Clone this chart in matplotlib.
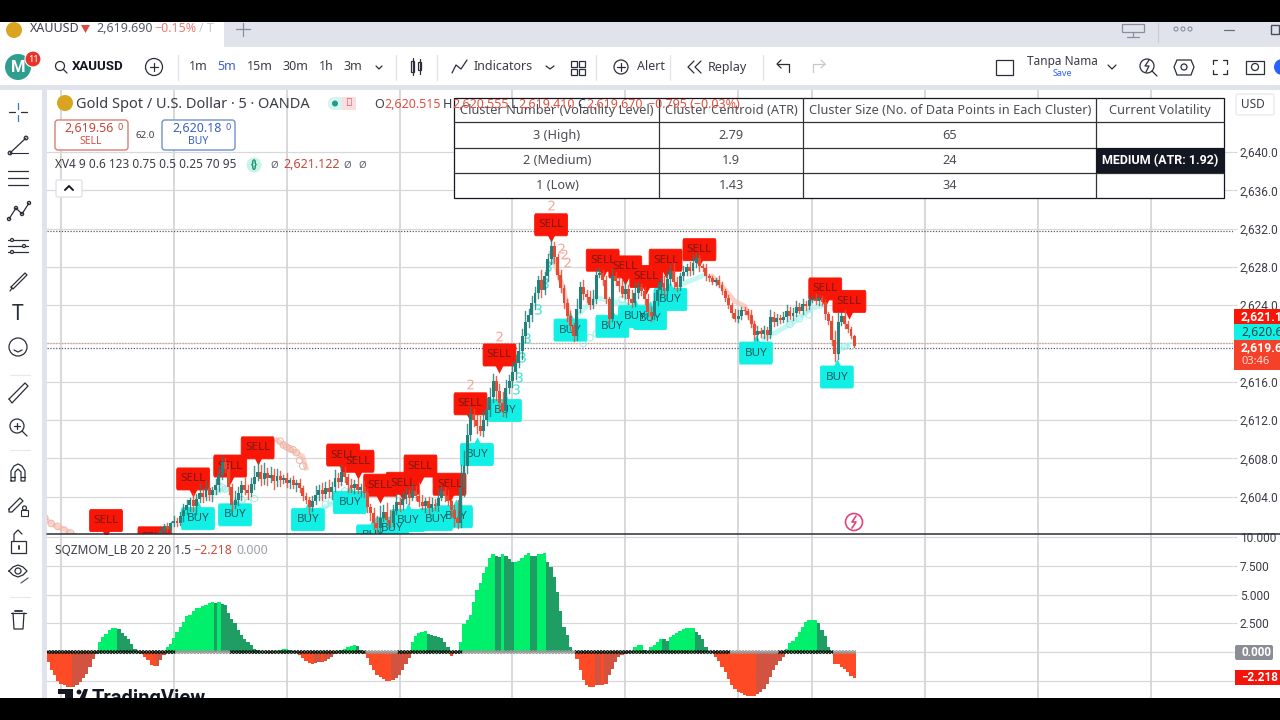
import matplotlib
matplotlib.use('Agg')
import matplotlib.pyplot as plt
from matplotlib.patches import Rectangle, Circle, FancyBboxPatch, Polygon

plt.rcParams['font.family'] = ['Noto Sans', 'DejaVu Sans']

# momentum histogram, one value per 5m bar
momentum = [-0.9, -1.6, -2.0, -2.5, -2.8, -2.9, -3.0, -3.02, -3.0, -2.9, -2.6, -2.3, -1.9, -1.3, -0.6, -0.2,
            0.9, 1.3, 1.6, 1.9, 2.1, 2.1, 2.0, 1.7, 1.4, 1.1, 0.7, 0.3,
            -0.05, -0.2, -0.4, -0.7, -1.1, -1.25, -1.2, -0.7, -0.25,
            0.4, 0.7, 1.2, 1.75, 2.2, 2.6, 3.15, 3.25, 3.6, 3.8, 3.85, 4.0, 4.1, 4.3, 4.35, 4.3, 4.32, 4.2, 4.1,
            3.4, 2.9, 2.5, 1.9, 1.45, 1.15, 0.9, 0.6, 0.3, 0.15,
            0.05, 0.02, -0.05, -0.08, 0.05, 0.1, 0.2, 0.25, 0.3, 0.2, 0.1,
            -0.1, -0.3, -0.55, -0.8, -0.95, -1.0, -0.95, -0.85, -0.85, -0.75, -0.6, -0.4, -0.2,
            0.1, 0.2, 0.3, 0.45, 0.55, 0.65, 0.55, 0.15,
            -0.15, -0.55, -1.1, -1.6, -2.0, -2.2, -2.35, -2.5, -2.55, -2.45, -2.3, -2.0, -1.6, -1.0, -0.5,
            0.85, 1.4, 1.7, 1.75, 1.8, 1.6, 1.5, 1.4, 1.3, 1.2, 0.85, 0.4,
            -0.35, -0.1, 0.02,
            0.85, 2.45, 2.75, 3.2, 4.35, 5.4, 6.0, 6.85, 7.4, 8.15, 8.5, 8.4, 8.3, 8.5, 8.35, 8.1, 7.85, 7.85, 7.9,
            8.15, 8.45, 8.6, 8.4, 8.35, 8.5, 8.55, 8.6, 7.85, 7.4, 6.5, 5.2, 3.6, 2.2, 1.45, 0.45, 0.02,
            -0.6, -1.6, -2.45, -2.9, -3.0, -3.0, -2.9, -2.85, -2.9, -2.75, -2.0, -1.45, -0.9, -0.45, -0.3, -0.2, -0.1,
            0.1, 0.4, 0.6, 0.6, 0.15, 0.02,
            0.45, 0.65, 0.85, 1.15, 1.1, 1.0, 1.3, 1.45, 1.7, 1.8, 2.05, 2.1, 2.1, 2.1, 1.75, 1.45, 1.15, 0.45,
            0.02, -0.1,
            -0.45, -0.75, -1.3, -1.75, -2.35, -2.85, -3.2, -3.5, -3.6, -3.7, -3.8, -3.8, -3.8, -3.65, -3.5, -3.2,
            -2.75, -2.2, -1.6, -1.15, -0.75, -0.45,
            0.3, 0.75, 1.0, 1.3, 1.75, 2.2, 2.6, 2.75, 2.75, 2.75, 2.5, 1.9, 1.4, 0.45, 0.1,
            -1.0, -1.05, -1.3, -1.45, -1.75, -2.05, -2.218]
squeeze_grey = [(40, 56), (99, 108), (129, 163), (212, 226), (244, 250)]

first_candle = 35
closes = [2600.4, 2600.9, 2600.6, 2601.2, 2601.5, 2601.3, 2602.0, 2602.6, 2603.1, 2603.6,
          2603.0, 2603.8, 2604.4, 2604.0, 2604.9, 2604.2, 2604.7, 2605.2, 2606.3, 2607.6,
          2606.9, 2605.0, 2603.1, 2603.6, 2604.4, 2605.2, 2604.7, 2604.4, 2605.3, 2606.1,
          2606.6, 2605.8, 2606.5, 2605.9, 2606.3, 2605.6, 2606.2, 2605.7, 2605.9, 2605.4,
          2605.7, 2605.2, 2605.4, 2604.9, 2604.1, 2603.6, 2602.9, 2603.5, 2604.2, 2604.7,
          2604.3, 2604.9, 2604.5, 2605.0, 2605.9, 2605.5, 2606.6, 2606.1, 2605.2, 2604.9,
          2605.3, 2604.7, 2605.0, 2604.4, 2602.9, 2602.3, 2601.2, 2600.7, 2601.8, 2602.4,
          2601.6, 2601.3, 2602.5, 2603.4, 2603.1, 2603.8, 2604.3, 2603.9, 2604.6, 2604.1,
          2603.4, 2603.0, 2603.5, 2602.8, 2603.2, 2603.0, 2603.9, 2604.6, 2604.1, 2603.5,
          2602.6, 2601.8, 2601.3, 2604.9, 2607.2, 2610.4, 2612.6, 2612.0, 2611.4, 2610.9,
          2612.0, 2613.1, 2614.4, 2616.1, 2615.0, 2613.8, 2613.0, 2615.3, 2616.1, 2617.0,
          2618.0, 2619.2, 2620.8, 2622.2, 2623.0, 2624.2, 2625.3, 2626.6, 2625.6, 2627.1,
          2628.8, 2630.2, 2629.0, 2627.2, 2625.8, 2624.2, 2622.9, 2621.8, 2620.8, 2623.6,
          2625.9, 2625.2, 2624.9, 2624.0, 2624.6,
          2627.2, 2627.4, 2626.6, 2624.6, 2622.6, 2627.0,
          2626.5, 2626.0, 2625.2, 2625.7, 2624.7, 2624.2, 2625.3, 2625.9, 2625.5, 2624.6,
          2623.3, 2622.9, 2624.4, 2625.6, 2626.3, 2625.5, 2626.7, 2627.6, 2626.4, 2625.9,
          2627.0, 2627.5, 2628.0, 2627.6, 2628.4, 2628.9, 2628.1, 2627.9, 2627.0, 2626.8,
          2626.4, 2626.6, 2626.1, 2625.5, 2624.8, 2624.0, 2623.2, 2622.6, 2622.9, 2623.5,
          2623.4, 2623.0, 2622.0, 2620.9, 2621.3, 2621.0, 2621.4, 2620.9, 2622.8, 2622.2,
          2622.7, 2622.5, 2622.8, 2623.4, 2622.9, 2623.2, 2623.8, 2623.4, 2624.1, 2623.9,
          2624.5, 2624.7, 2624.4, 2624.8, 2624.3, 2623.1, 2622.4, 2620.4, 2618.9, 2622.2,
          2622.9, 2622.0, 2621.5, 2620.8, 2619.69]
upper_wick = [0.3, 0.2, 0.4, 0.2, 0.5, 0.3, 0.4, 0.6, 0.5, 0.3,
              0.8, 0.5, 0.9, 0.4, 0.7, 0.5, 0.3, 0.6, 0.8, 0.7,
              0.4, 0.6, 0.3, 1.0, 0.6, 0.4, 0.7, 0.5, 0.6, 1.1,
              0.9, 0.7, 1.0, 0.5, 0.8, 0.6, 0.7, 0.5, 0.4, 0.6,
              0.3, 0.5, 0.3, 0.4, 0.2, 0.3, 0.4, 0.6, 0.9, 0.5,
              0.7, 0.6, 0.8, 0.5, 0.9, 0.6, 0.7, 0.5, 0.3, 0.6,
              0.4, 0.5, 0.3, 0.6, 0.4, 0.3, 0.5, 0.8, 1.2, 0.7,
              0.9, 1.0, 0.6, 0.9, 0.5, 0.7, 0.6, 0.4, 0.7, 0.5,
              0.6, 0.8, 0.4, 0.5, 0.7, 0.6, 0.9, 0.5, 0.4, 0.6,
              0.3, 0.5, 1.8, 2.4, 1.6, 1.2, 0.8, 0.6, 0.5, 1.0,
              0.9, 1.2, 1.0, 0.7, 0.5, 0.8, 1.1, 0.9, 0.6, 1.1,
              0.8, 0.9, 0.7, 1.2, 0.6, 0.8, 0.6, 0.5, 1.1, 0.4,
              0.5, 0.6, 0.4, 0.3, 0.5, 0.3, 0.4, 0.5, 0.3, 1.1,
              0.5, 0.7, 0.4, 0.6, 1.0,
              0.6, 0.5, 0.3, 0.4, 0.3, 0.8,
              0.5, 0.4, 0.6, 0.7, 0.4, 0.9, 1.0, 0.5, 0.3, 0.4,
              0.6, 0.5, 0.9, 0.8, 0.5, 0.7, 0.9, 0.6, 0.8, 0.5,
              0.4, 0.6, 0.3, 0.5, 0.8, 0.6, 0.3, 0.2, 0.4, 0.3,
              0.3, 0.2, 0.4, 0.3, 0.2, 0.3, 0.2, 0.4, 0.6, 0.3,
              0.3, 0.2, 0.5, 0.4, 0.5, 0.3, 0.4, 0.3, 0.7, 0.5,
              0.4, 0.3, 0.5, 0.6, 0.4, 0.5, 0.6, 0.4, 0.5, 0.3,
              0.4, 0.3, 0.5, 0.3, 0.2, 0.3, 0.2, 0.5, 0.9, 1.0,
              0.4, 0.6, 0.4, 0.2, 0.1]
lower_wick = [0.3, 0.4, 0.2, 0.5, 0.3, 0.4, 0.3, 0.5, 0.4, 0.6,
              0.5, 0.8, 0.4, 0.6, 0.3, 0.5, 0.7, 0.4, 0.6, 0.5,
              0.3, 0.7, 0.6, 0.3, 0.5, 0.8, 0.4, 0.6, 0.3, 0.5,
              0.4, 0.6, 0.5, 0.7, 0.4, 0.8, 0.5, 0.6, 0.3, 0.4,
              0.5, 0.3, 0.6, 0.4, 0.5, 0.3, 0.7, 0.4, 0.3, 0.5,
              0.6, 0.4, 0.5, 0.7, 0.4, 0.5, 0.3, 0.6, 0.7, 0.4,
              0.5, 0.3, 0.6, 0.4, 0.5, 0.7, 0.6, 0.4, 0.5, 0.3,
              0.6, 0.5, 0.4, 0.3, 0.6, 0.4, 0.5, 0.7, 0.3, 0.5,
              0.4, 0.3, 0.6, 0.5, 0.3, 0.4, 0.5, 0.3, 0.6, 0.4,
              0.7, 0.9, 0.6, 0.5, 0.8, 0.7, 0.5, 0.6, 0.8, 0.5,
              0.6, 0.5, 0.7, 0.5, 0.9, 0.8, 0.6, 0.7, 0.5, 0.6,
              0.7, 0.5, 0.8, 0.6, 0.5, 0.7, 0.6, 0.5, 0.7, 0.4,
              0.6, 0.5, 0.6, 0.5, 0.4, 0.5, 0.6, 0.4, 0.5, 0.4,
              0.3, 0.5, 0.6, 0.4, 0.3,
              0.4, 0.3, 0.5, 0.4, 0.6, 0.3,
              0.4, 0.5, 0.3, 0.4, 0.6, 0.4, 0.3, 0.5, 0.4, 0.5,
              0.4, 0.6, 0.3, 0.4, 0.5, 0.4, 0.3, 0.5, 0.6, 0.4,
              0.3, 0.4, 0.3, 0.4, 0.3, 0.4, 0.5, 0.3, 0.4, 0.3,
              0.2, 0.3, 0.2, 0.3, 0.4, 0.3, 0.4, 0.3, 0.4, 0.3,
              0.3, 0.4, 0.3, 0.4, 0.5, 0.3, 0.4, 0.5, 0.3, 0.4,
              0.3, 0.4, 0.3, 0.4, 0.3, 0.4, 0.3, 0.2, 0.3, 0.4,
              0.3, 0.2, 0.3, 0.4, 0.3, 0.5, 0.4, 0.6, 0.7, 0.5,
              0.3, 0.4, 0.3, 0.2, 0.1]

sell_bars = [18, 33, 45, 56.5, 65, 91.5, 96, 103, 110, 115.5, 124.5, 131, 140, 156, 172, 179, 185.5, 191.5, 202, 241, 248.5]
sell_prices = [2601.5, 2599.7, 2605.85, 2607.2, 2609.1, 2608.35, 2607.7, 2605.2, 2605.4, 2607.2, 2605.3,
               2613.7, 2618.8, 2632.4, 2628.7, 2628.0, 2627.0, 2628.7, 2629.8, 2625.7, 2624.4]
buy_bars = [46.5, 58, 80.6, 93.6, 100.8, 106.7, 111.6, 120.3, 126.5, 133, 141.7, 162, 175, 182, 186.7, 193, 219.5, 244.6]
buy_prices = [2601.7, 2602.1, 2601.6, 2603.4, 2599.9, 2600.7, 2601.5, 2601.6, 2601.9, 2608.4, 2613.0,
              2621.4, 2621.8, 2622.8, 2622.6, 2624.6, 2619.0, 2616.5]

# trailing bands of the XV4 script
red_trails = [([-1, 2, 5, 8], [2601.7, 2601.0, 2600.6, 2600.0]),
              ([71, 73, 75, 77, 79, 80], [2609.9, 2609.4, 2609.0, 2608.6, 2608.2, 2607.0]),
              ([156, 158, 160, 162], [2629.5, 2627.5, 2625.5, 2622.5]),
              ([206, 210, 213, 216, 219], [2627.0, 2625.6, 2624.4, 2623.9, 2621.8])]
cyan_trails = [([165, 170, 175, 180, 186, 192, 198, 204], [2623.2, 2624.8, 2624.4, 2624.0, 2623.8, 2625.2, 2626.4, 2627.2]),
               ([222, 227, 232, 237, 241], [2620.5, 2621.4, 2622.4, 2623.7, 2624.0]),
               ([52, 55], [2604.4, 2604.8]), ([84, 90, 94], [2602.6, 2603.6, 2604.4]),
               ([245, 248], [2619.3, 2619.8])]
digit3_bars = [147, 148.5, 152, 154, 155, 156, 146, 145]
digit3_prices = [2618.6, 2620.6, 2623.6, 2626.3, 2628.1, 2628.9, 2616.5, 2615.2]
digit2_bars = [159, 160, 161, 156, 140, 131]
digit2_prices = [2630.0, 2629.3, 2628.5, 2634.5, 2620.8, 2615.8]
swirl_bars = [53, 54, 55, 60, 62, 64, 86, 88, 90, 92, 178, 180, 166, 168, 170, 230, 233, 236, 247, 249]
swirl_prices = [2605.1, 2605.0, 2604.8, 2603.7, 2603.4, 2603.8, 2603.2, 2603.6, 2603.8, 2604.6, 2624.6, 2624.4,
                2620.0, 2620.6, 2621.0, 2622.0, 2622.6, 2623.0, 2619.7, 2619.7]
swirl_red_bars = [72, 73, 74, 75, 76, 77, 78, 79, -1, 1, 3, 5, 7]
swirl_red_prices = [2609.8, 2609.4, 2609.2, 2609.0, 2608.9, 2608.6, 2607.8, 2607.2, 2601.8, 2601.2, 2600.9, 2600.5, 2600.2]

price_ticks = [2604, 2608, 2612, 2616, 2620, 2624, 2628, 2632, 2636, 2640]
mom_ticks = [-2.5, 0, 2.5, 5, 7.5, 10]
grid_bars = [4, 39, 74, 109, 144, 179, 214, 237, 272, 307, 342]
level_lines = [(2631.75, '#5a5a5a'), (2620.0, '#c9a090'), (2619.56, '#6a4a6a')]

table_header = ['Cluster Number (Volatility Level)', 'Cluster Centroid (ATR)',
                'Cluster Size (No. of Data Points in Each Cluster)', 'Current Volatility']
table_levels = ['3 (High)', '2 (Medium)', '1 (Low)']
table_centroids = ['2.79', '1.9', '1.43']
table_sizes = ['65', '24', '34']

timeframes = ['1m', '5m', '15m', '30m', '1h', '3m']
GRID = '#d6d6d6'
TEXT = '#3a3d45'
BAR_PX = 3.225
LIME, DGREEN, RED, DRED = '#00f06c', '#1f9e63', '#ff4a26', '#d2533f'
UP_CANDLE, DOWN_CANDLE = '#23807a', '#e64a33'


def px_to_fig(x0, y0, x1, y1):
    return [x0 / 1280, 1 - y1 / 720, (x1 - x0) / 1280, (y1 - y0) / 720]


def style_pane(a):
    a.patch.set_alpha(0)
    a.yaxis.tick_right()
    a.set_xticks(grid_bars)
    a.tick_params(axis='x', length=0, labelbottom=False)
    a.tick_params(axis='y', length=3, color=GRID, labelsize=8.6, labelcolor=TEXT, pad=2)
    for lab in a.get_yticklabels():
        lab.set_family('Roboto')
    a.xaxis.grid(True, color='#d2d2d2', lw=1.2)
    a.yaxis.grid(True, color='#d8d8d8', lw=0.9)
    a.set_axisbelow(True)
    for s in a.spines.values():
        s.set_visible(False)


fig = plt.figure(figsize=(12.8, 7.2), dpi=100, facecolor='white')

# background layer, drawn in screen pixels
bg = fig.add_axes([0, 0, 1, 1], zorder=0)
bg.set_xlim(0, 1280)
bg.set_ylim(720, 0)
bg.axis('off')
bg.add_patch(Rectangle((0, 22), 1280, 25, fc='#e0e3eb', ec='none'))
bg.add_patch(Rectangle((0, 22), 224, 26, fc='white', ec='none'))
bg.add_patch(Rectangle((0, 85), 1280, 5, fc='#e0e3eb', ec='none'))
bg.add_patch(Rectangle((42, 90), 5, 610, fc='#e0e3eb', ec='none'))
bg.add_patch(Rectangle((1233, 90), 47, 610, fc='white', ec='none'))

# price pane
left_bar = -1 / BAR_PX
right_bar = (1233 - 48) / BAR_PX
ax = fig.add_axes(px_to_fig(47, 90, 1233, 534), zorder=1)
ax.set_xlim(left_bar, right_bar)
ax.set_ylim(2600.1, 2646.48)
ax.set_yticks(price_ticks)
ax.set_yticklabels(['{:,.1f}'.format(p) for p in price_ticks])
style_pane(ax)

for level, col in level_lines:
    ax.axhline(level, color=col, lw=0.9, ls=(0, (1, 1.3)), zorder=1)

for bars, prices in red_trails:
    ax.plot(bars, prices, color='#f6b9aa', lw=3.5, alpha=0.65, zorder=1.5)
for bars, prices in cyan_trails:
    ax.plot(bars, prices, color='#a8f5ef', lw=3.5, alpha=0.7, zorder=1.5)
ax.scatter(swirl_bars, swirl_prices, s=22, marker='o', facecolors='none', edgecolors='#9eeee8', linewidths=0.7, zorder=1.6)
ax.scatter(swirl_red_bars, swirl_red_prices, s=22, marker='o', facecolors='none', edgecolors='#eeb4a6', linewidths=0.7, zorder=1.6)

for b, p in zip(sell_bars, sell_prices):
    ax.add_patch(FancyBboxPatch((b - 4.95, p - 1.0), 9.9, 2.0, boxstyle='round,pad=0.15,rounding_size=0.3',
                                mutation_aspect=1, fc='#fa1607', ec='#fa1607', lw=0.6, zorder=2))
    ax.scatter([b], [p - 1.42], marker='v', s=36, color='#fa1607', zorder=2, linewidths=0)
    ax.text(b, p, 'SELL', ha='center', va='center', fontsize=8.4, color='#7a1a12', zorder=2.2, clip_on=True)
for b, p in zip(buy_bars, buy_prices):
    ax.add_patch(FancyBboxPatch((b - 4.95, p - 1.0), 9.9, 2.0, boxstyle='round,pad=0.15,rounding_size=0.3',
                                mutation_aspect=1, fc='#12f0e6', ec='#12f0e6', lw=0.6, zorder=2))
    ax.scatter([b], [p + 1.42], marker='^', s=36, color='#12f0e6', zorder=2, linewidths=0)
    ax.text(b, p, 'BUY', ha='center', va='center', fontsize=8.4, color='#0e5f66', zorder=2.2, clip_on=True)

ax.scatter(digit3_bars, digit3_prices, marker='$3$', s=55, color='#3fe3d6', linewidths=0, zorder=2.4)
ax.scatter(digit2_bars, digit2_prices, marker='$2$', s=50, color='#eeaa98', linewidths=0, zorder=2.4)

# candles, open taken from the previous close
prev = closes[0] - 0.2
for k, c in enumerate(closes):
    bar = first_candle + k
    col = UP_CANDLE if c >= prev else DOWN_CANDLE
    ax.plot([bar, bar], [min(prev, c) - lower_wick[k], max(prev, c) + upper_wick[k]], color=col, lw=1.0, alpha=0.85, zorder=3)
    ax.add_patch(Rectangle((bar - 0.45, min(prev, c)), 0.9, max(abs(c - prev), 0.1), fc=col, ec='none', zorder=3.1))
    prev = c

# momentum pane
ax2 = fig.add_axes(px_to_fig(47, 535, 1233, 698), zorder=1)
ax2.set_xlim(left_bar, right_bar)
ax2.set_ylim(-4.0, 10.19)
ax2.set_yticks(mom_ticks)
ax2.set_yticklabels(['' if v <= 0 else '{:.3f}'.format(v) for v in mom_ticks])
style_pane(ax2)

bar_cols = []
last = 0
for v in momentum:
    if v >= 0:
        bar_cols.append(LIME if v >= last else DGREEN)
    else:
        bar_cols.append(RED if v <= last else DRED)
    last = v
ax2.bar(range(len(momentum)), momentum, width=1.0, color=bar_cols, linewidth=0, zorder=2)
cross_cols = []
for i in range(len(momentum)):
    grey = any(a <= i <= b for a, b in squeeze_grey)
    cross_cols.append('#9a9a9a' if grey else '#0c1a10')
ax2.scatter(range(len(momentum)), [0] * len(momentum), marker='x', s=6, c=cross_cols, linewidths=0.9, zorder=3)

# everything on top of the panes
top = fig.add_axes([0, 0, 1, 1], zorder=5)
top.set_xlim(0, 1280)
top.set_ylim(720, 0)
top.axis('off')
top.patch.set_alpha(0)


def label(x, y, s, size=9.5, color=TEXT, ha='left', weight='normal', zorder=6):
    family = 'Roboto' if weight == 'bold' else 'Noto Sans'
    top.text(x, y + 1, s, fontsize=size, color=color, ha=ha, va='center', fontweight=weight, family=family, zorder=zorder)


def stroke(xs, ys, color='#2a2e39', lw=0.9, zorder=6):
    top.plot(xs, ys, color=color, lw=lw, solid_capstyle='round', zorder=zorder)


def ring(x, y, r, fc='none', ec='#2a2e39', lw=0.9, zorder=6):
    top.add_patch(Circle((x, y), r, fc=fc, ec=ec, lw=lw, zorder=zorder))


# black letterbox and tab strip
top.add_patch(Rectangle((0, 0), 1280, 22, fc='black', ec='none', zorder=20))
top.add_patch(Rectangle((0, 698), 1280, 22, fc='black', ec='none', zorder=20))
ring(14, 30, 8, fc='#d9a520', ec='none')
label(30, 28, 'XAUUSD', 9, TEXT)
top.add_patch(Polygon([(81, 25), (90, 25), (85.5, 33)], fc='#e04a3a', ec='none', zorder=6))
label(96, 28, '2,619.690', 9, '#555a66')
label(154, 28, '−0.15%', 9, '#ee7a70')
label(199, 28, '/ T', 9, '#c8c8cc')
stroke([236, 250], [29, 29], '#8a8f9c')
stroke([243, 243], [23, 36], '#8a8f9c')
top.add_patch(Rectangle((1122, 24), 22, 8, fc='none', ec='#8a8f9c', lw=0.9, zorder=6))
stroke([1133, 1133], [32, 37], '#8a8f9c')
stroke([1127, 1139], [37, 37], '#8a8f9c')
stroke([1158, 1158], [23, 42], '#c9ccd4')
for cx in (1176, 1183, 1190):
    ring(cx, 29, 2, ec='#8a8f9c', lw=0.8)
stroke([1224, 1234], [30, 30], '#6a6f7c')
top.add_patch(Rectangle((1271, 25), 8, 9, fc='none', ec='#4a4f5c', lw=1, zorder=6))

# top toolbar
ring(18, 67, 13, fc='#2f9e8f', ec='none')
label(18, 67, 'M', 12, 'white', ha='center', weight='bold')
ring(33, 59, 8, fc='#e5342a', ec='white', lw=0.8)
label(33, 58, '11', 6.5, 'white', ha='center')
ring(60, 66, 4.5)
stroke([63.5, 67], [69.5, 73])
label(72, 66, 'XAUUSD', 9.5, '#131722', weight='bold')
ring(154, 67, 8.5)
stroke([150, 158], [67, 67])
stroke([154, 154], [63, 71])
for tf, tx in zip(timeframes, [198, 227, 260, 295, 326, 353]):
    label(tx, 66, tf, 9, '#3f5fc8' if tf == '5m' else TEXT, ha='center')
stroke([376, 379, 382], [66, 69, 66])
for sx in (178, 396, 437, 596, 670, 763):
    stroke([sx, sx], [55, 80], '#e0e3eb')
top.add_patch(Rectangle((411, 61), 3, 11, fc='none', ec='#2a2e39', lw=0.9, zorder=6))
top.add_patch(Rectangle((418, 62), 3, 8, fc='none', ec='#2a2e39', lw=0.9, zorder=6))
stroke([412.5, 412.5], [58, 75])
stroke([419.5, 419.5], [59, 74])
stroke([452, 456, 461, 467], [73, 65, 69, 60])
label(474, 66, 'Indicators', 9)
stroke([546, 550, 554], [66, 69, 66])
for gx, gy in [(571, 61), (579, 61), (571, 69), (579, 69)]:
    top.add_patch(Rectangle((gx, gy), 6, 6, fc='none', ec='#2a2e39', lw=0.9, zorder=6))
ring(621, 67, 7)
stroke([621, 621], [63, 71])
stroke([617, 625], [67, 67])
label(637, 66, 'Alert', 9)
stroke([694, 688, 694], [61, 67, 73])
stroke([701, 695, 701], [61, 67, 73])
label(708, 66, 'Replay', 9)
stroke([777, 789, 789], [64, 64, 72])
stroke([781, 777, 781], [60, 64, 68])
stroke([825, 813, 813], [64, 64, 72], '#c5c8d0')
stroke([821, 825, 821], [60, 64, 68], '#c5c8d0')
top.add_patch(Rectangle((996, 60), 17, 15, fc='none', ec='#2a2e39', lw=0.9, zorder=6))
label(1062, 61, 'Tanpa Nama', 8.5, ha='center')
label(1062, 73, 'Save', 6.5, '#2962ff', ha='center')
stroke([1108, 1112, 1116], [65, 69, 65])
ring(1147, 66, 7)
stroke([1152, 1157], [71, 76])
stroke([1149, 1145, 1149, 1146], [60, 66, 66, 72])
top.add_patch(Polygon([(1177, 60), (1191, 60), (1194, 67), (1191, 75), (1177, 75), (1174, 67)], fc='none', ec='#2a2e39', lw=0.9, zorder=6))
ring(1184, 67, 3)
for a, b, c, d in [(1213, 1213, 60, 64), (1213, 1217, 60, 60), (1227, 1227, 60, 64), (1223, 1227, 60, 60),
                   (1213, 1213, 70, 74), (1213, 1217, 74, 74), (1227, 1227, 70, 74), (1223, 1227, 74, 74)]:
    stroke([a, b], [c, d])
top.add_patch(Rectangle((1246, 61), 18, 13, fc='none', ec='#2a2e39', lw=0.9, zorder=6))
ring(1255, 67, 3.5)
ring(1282, 67, 8, fc='#2962ff', ec='none')

# left toolbar
top.add_patch(Rectangle((0, 90), 42, 608, fc='white', ec='none', zorder=5))
stroke([9, 15], [112, 112], '#2a2e39')
stroke([21, 27], [112, 112], '#2a2e39')
stroke([18, 18], [103, 109], '#3a6fd8')
stroke([18, 18], [115, 121], '#3a6fd8')
stroke([10, 26], [153, 138])
ring(10, 153, 1.8)
ring(26, 138, 1.8)
stroke([10, 28], [153, 153], '#2a2e39', 0.8)
for ly in (171, 178, 185):
    stroke([8, 28], [ly, ly])
stroke([9, 16, 22, 29], [219, 208, 214, 203])
for px_, py_ in [(9, 219), (16, 208), (22, 214), (29, 203)]:
    ring(px_, py_, 1.6)
for ly in (240, 246, 252):
    stroke([8, 28], [ly, ly])
ring(12, 240, 1.5, fc='white', zorder=7)
ring(24, 246, 1.5, fc='white', zorder=7)
ring(12, 252, 1.5, fc='white', zorder=7)
stroke([11, 25, 27, 13, 11], [287, 273, 275, 289, 287])
stroke([10, 12], [291, 288])
label(18, 313, 'T', 15, '#2a2e39', ha='center')
ring(18, 347, 9)
stroke([14, 18, 22], [350, 352, 350])
stroke([10, 30], [375, 375], '#e6e8ee')
stroke([9, 25, 28, 12, 9], [399, 383, 386, 403, 399])
ring(17, 426, 7)
stroke([22, 27], [431, 436])
stroke([14, 20], [426, 426])
stroke([17, 17], [423, 429])
stroke([10, 30], [450, 450], '#e6e8ee')
# magnet
stroke([11, 11, 14, 18, 22, 25, 25, 21, 21, 18, 15, 15, 11], [481, 471, 466, 464, 466, 471, 481, 481, 472, 469, 472, 481, 481])
stroke([11, 15], [477, 477])
stroke([21, 25], [477, 477])
# pencil with small lock
stroke([9, 20, 23, 12, 9, 9], [509, 498, 501, 512, 512, 509])
top.add_patch(Rectangle((21, 510), 7, 6, fc='none', ec='#2a2e39', lw=0.8, zorder=6))
ring(24.5, 508, 2)
# open lock
top.add_patch(Rectangle((11, 541), 15, 12, fc='none', ec='#2a2e39', lw=0.9, zorder=6))
stroke([14, 14, 18, 22], [541, 534, 530, 534])
stroke([18.5, 18.5], [546, 549], '#2a2e39', 1.3)
# eye
top.plot([9, 13, 18, 23, 27, 23, 18, 13, 9], [571, 567, 565, 567, 571, 575, 577, 575, 571], color='#2a2e39', lw=0.9, zorder=6)
ring(18, 571, 3)
stroke([21, 28], [583, 578], '#555a66')
stroke([10, 30], [597, 597], '#e6e8ee')
# trash
stroke([11, 26], [613, 613])
stroke([15, 22], [611, 611], '#2a2e39', 1.3)
stroke([13, 14, 23, 24], [613, 629, 629, 613])

# legend on the chart
ring(65, 103, 8, fc='#d9a520', ec='none')
label(76, 103, 'Gold Spot / U.S. Dollar · 5 · OANDA', 10.5)
top.add_patch(FancyBboxPatch((328, 97), 28, 13, boxstyle='round,pad=0,rounding_size=6', fc='#d9f4ef', ec='none', zorder=6))
top.add_patch(Rectangle((342, 97), 14, 13, fc='#fbdde0', ec='none', zorder=6))
ring(335, 103.5, 3, fc='#1c9d8c', ec='none', zorder=7)
label(349, 102, '≈', 8, '#e05a6a', ha='center', zorder=7)
top.add_patch(FancyBboxPatch((55, 120), 73, 30, boxstyle='round,pad=0,rounding_size=3', fc='white', ec='#d97f74', lw=1, zorder=6))
label(64, 128, '2,619.56', 9, '#c9463a')
label(117, 127, '0', 6.5, '#c9463a')
label(91, 141, 'SELL', 7.5, '#d9534a', ha='center')
label(145, 134, '62.0', 7, TEXT, ha='center')
top.add_patch(FancyBboxPatch((162, 120), 73, 30, boxstyle='round,pad=0,rounding_size=3', fc='white', ec='#6f8fd0', lw=1, zorder=6))
label(172, 128, '2,620.18', 9, '#3b5fc0')
label(225, 127, '0', 6.5, '#3b5fc0')
label(198, 141, 'BUY', 7.5, '#3b5fc0', ha='center')
label(55, 164, 'XV4 9 0.6 123 0.75 0.5 0.25 70 95', 8.5)
ring(254, 165, 7.5, fc='#c9f3e6', ec='none')
label(254, 164, '{}', 7.5, '#0f8f6a', ha='center', weight='bold', zorder=7)
label(270, 164, 'Ø', 7, '#555a66')
label(283, 164, '2,621.122', 9, '#c9463a')
label(343, 164, 'Ø', 7, '#555a66')
label(358, 164, 'Ø', 7, '#555a66')
top.add_patch(FancyBboxPatch((56, 180), 26, 17, boxstyle='round,pad=0,rounding_size=2', fc='white', ec='#e0e3eb', lw=1, zorder=6))
stroke([65, 69, 73], [190, 186, 190], '#131722', 1.4)
label(55, 549, 'SQZMOM_LB 20 2 20 1.5', 8.5)
label(193, 549, '−2.218', 9, '#d04a3a')
label(236, 549, '0.000', 9, '#9a9ea8')

# table
top.add_patch(Rectangle((454, 98), 770, 100, fc='white', ec='#131722', lw=0.9, zorder=7))
for yl in (122, 148, 173):
    stroke([454, 1224], [yl, yl], '#333', 0.9, zorder=8)
for xl in (659, 803, 1096):
    stroke([xl, xl], [98, 198], '#333', 0.9, zorder=8)
for tx, s in zip([557, 731, 950, 1160], table_header):
    label(tx, 109.5, s, 9.2, '#4a4d55', ha='center', zorder=9)
for tx, col in zip([557, 731, 950], [table_levels, table_centroids, table_sizes]):
    for ty, s in zip([134.5, 159.5, 184.5], col):
        label(tx, ty, s, 9.2, '#4a4d55', ha='center', zorder=9)
top.add_patch(Rectangle((1096, 148), 128, 25, fc='#131722', ec='none', zorder=8))
label(1160, 159.5, 'MEDIUM (ATR: 1.92)', 9, 'white', ha='center', weight='bold', zorder=9)

# OHLC legend runs across the table header
label(374, 103, 'O', 9)
label(384, 103, '2,620.515', 9, '#e0503f')
label(443, 103, 'H', 9)
label(452, 103, '2,620.555', 9, '#e0503f', zorder=10)
label(511, 103, 'L', 9, zorder=10)
label(518, 103, '2,619.410', 9, '#e0503f', zorder=10)
label(577, 103, 'C', 9, zorder=10)
label(586, 103, '2,619.670', 9, '#e0503f', zorder=10)
label(648, 103, '−0.795 (−0.03%)', 9, '#e0503f', zorder=10)

# pane divider and lightning mark
stroke([47, 1280], [534, 534], '#2a2e39', 1.1)
ring(854, 522, 8.5, fc='white', ec='#e0457a', lw=1.2)
stroke([856, 852, 856, 852], [516, 522, 522, 528], '#e0457a', 1.2)

# price scale tags
label(1241, 103, 'USD', 8.5, TEXT)
top.add_patch(FancyBboxPatch((1236, 94), 38, 21, boxstyle='round,pad=0,rounding_size=2', fc='none', ec='#e6e8ee', lw=0.9, zorder=6))
top.add_patch(Rectangle((1234, 309), 46, 15, fc='#fa1607', ec='none', zorder=6))
label(1241, 315.5, '2,621.1', 8.8, 'white', weight='bold', zorder=7)
top.add_patch(Rectangle((1234, 324), 46, 16, fc='#12f0e6', ec='none', zorder=6))
label(1241, 331, '2,620.6', 8.8, '#124a4a', zorder=7)
top.add_patch(Rectangle((1234, 340), 46, 30, fc='#f5412a', ec='none', zorder=6))
label(1241, 347, '2,619.6', 8.8, 'white', weight='bold', zorder=7)
label(1241, 360, '03:46', 8, '#ffd9d2', zorder=7)
top.add_patch(FancyBboxPatch((1235, 645), 38, 15, boxstyle='round,pad=0,rounding_size=2', fc='#8a8d94', ec='none', zorder=6))
label(1241, 651.5, '0.000', 8.5, 'white', weight='bold', zorder=7)
top.add_patch(Rectangle((1235, 670), 45, 15, fc='#f5140a', ec='none', zorder=6))
label(1241, 676.5, '−2.218', 8.5, 'white', weight='bold', zorder=7)

# watermark, cut by the letterbox
top.add_patch(Rectangle((58, 689), 15, 5, fc='#131722', ec='none', zorder=6))
top.add_patch(Rectangle((65, 689), 8, 12, fc='#131722', ec='none', zorder=6))
top.add_patch(Polygon([(78, 702), (84, 689), (88, 689), (84, 702)], fc='#131722', ec='none', zorder=6))
ring(79, 692, 2.4, fc='#131722', ec='none')
label(92, 697, 'TradingView', 14.5, '#131722', weight='bold')

fig.savefig('out.png', dpi=100)
